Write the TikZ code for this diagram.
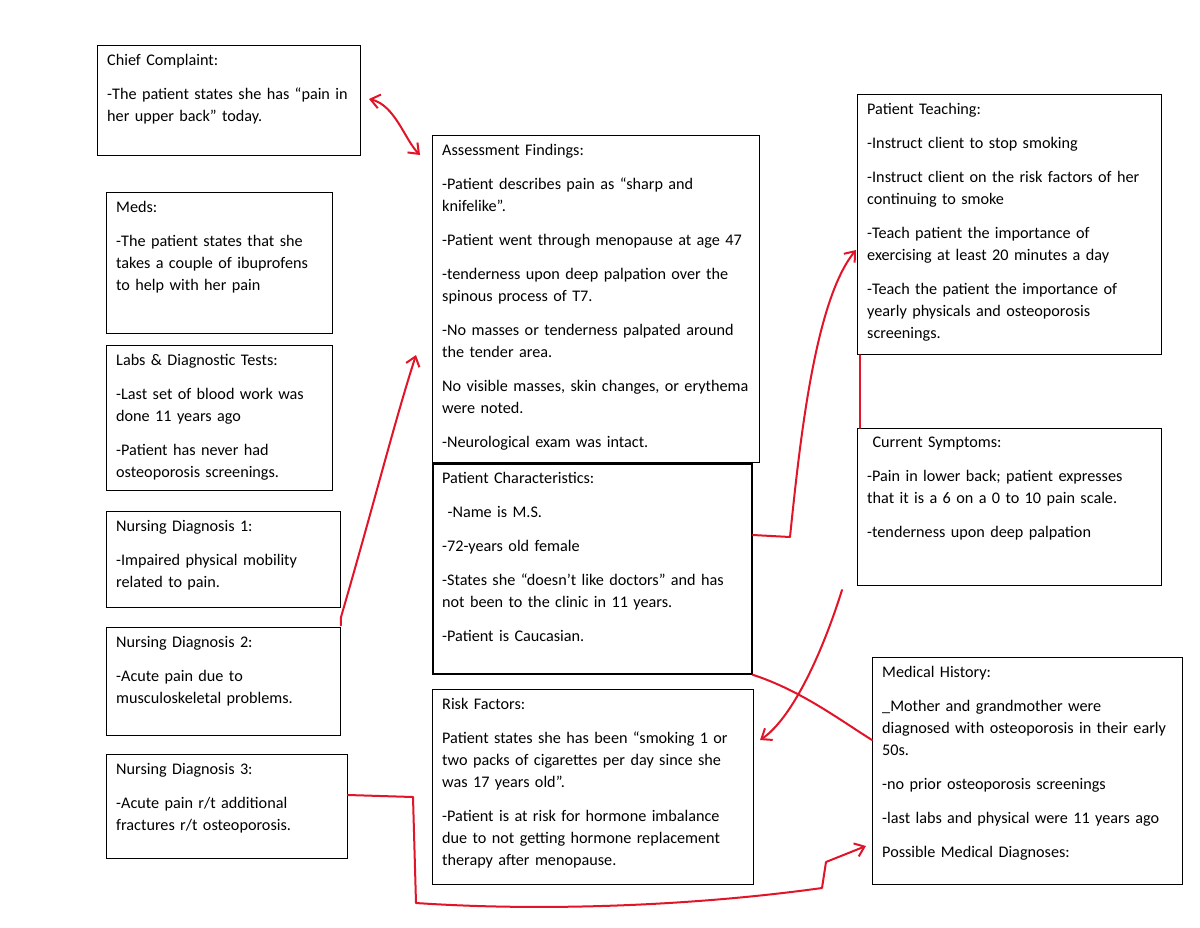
\documentclass[tikz,border=0pt]{standalone}
\usepackage{fontspec}
\setmainfont{Carlito}
\usetikzlibrary{calc,arrows.meta}
\begin{document}
\begin{tikzpicture}[x=1pt,y=-1pt,
  box/.style={draw=black,line width=0.9pt,anchor=north west,inner sep=0pt},
  txt/.style={anchor=north west,inner sep=0pt,align=left,font=\fontsize{16.2}{22}\selectfont,
     execute at begin node={\setlength{\parskip}{12pt}\hyphenpenalty=10000\exhyphenpenalty=10000}},
  red/.style={draw={rgb,255:red,225;green,20;blue,40},line width=2pt,line cap=round,line join=round},
  tip/.style={red,-{Straight Barb[length=9pt,width=14pt]}}]
\useasboundingbox[fill=white] (0,0) rectangle (1200,927);
\newcommand\bx[6]{\node[box,minimum width=#4-#2,minimum height=#5-#3] (#1) at (#2,#3) {};
  \node[txt,text width=#4-#2-12] (#1t) at (#2+10,#3+9) {#6};}
\bx{cc}{97}{45}{360}{155}{Chief Complaint:\par -The patient states she has “pain in\\ her upper back” today.}
\bx{meds}{106}{192}{332}{333}{Meds:\par -The patient states that she\\ takes a couple of ibuprofens\\ to help with her pain}
\bx{labs}{106}{345}{332}{490}{Labs \& Diagnostic Tests:\par -Last set of blood work was\\ done 11 years ago\par -Patient has never had\\ osteoporosis screenings.}
\bx{nda}{106}{511}{340}{607}{Nursing Diagnosis 1:\par -Impaired physical mobility\\ related to pain.}
\bx{ndb}{106}{627}{340}{735}{Nursing Diagnosis 2:\par -Acute pain due to\\ musculoskeletal problems.}
\bx{ndc}{106}{754}{347}{858}{Nursing Diagnosis 3:\par -Acute pain r/t additional\\ fractures r/t osteoporosis.}
\bx{af}{432}{135}{759}{462}{Assessment Findings:\par -Patient describes pain as “sharp and\\ knifelike”.\par -Patient went through menopause at age 47\par -tenderness upon deep palpation over the\\ spinous process of T7.\par -No masses or tenderness palpated around\\ the tender area.\par No visible masses, skin changes, or erythema\\ were noted.\par -Neurological exam was intact.}
\node[box,line width=1.8pt,minimum width=319,minimum height=210] (pc) at (432,463) {};
\node[txt,text width=306] (pct) at (442,472) {Patient Characteristics:\par \ -Name is M.S.\par -72-years old female\par -States she “doesn’t like doctors” and has\\ not been to the clinic in 11 years.\par -Patient is Caucasian.};
\bx{rf}{432}{689}{753}{884}{Risk Factors:\par Patient states she has been “smoking 1 or\\ two packs of cigarettes per day since she\\ was 17 years old”.\par -Patient is at risk for hormone imbalance\\ due to not getting hormone replacement\\ therapy after menopause.}
\bx{pt}{857}{94}{1161}{354}{Patient Teaching:\par -Instruct client to stop smoking\par -Instruct client on the risk factors of her\\ continuing to smoke\par -Teach patient the importance of\\ exercising at least 20 minutes a day\par -Teach the patient the importance of\\ yearly physicals and osteoporosis\\ screenings.}
\bx{cs}{857}{428}{1161}{585}{\ Current Symptoms:\par -Pain in lower back; patient expresses\\ that it is a 6 on a 0 to 10 pain scale.\par -tenderness upon deep palpation}
\bx{mh}{872}{657}{1182}{884}{Medical History:\par \_Mother and grandmother were\\ diagnosed with osteoporosis in their early\\ 50s.\par -no prior osteoporosis screenings\par -last labs and physical were 11 years ago\par Possible Medical Diagnoses:}
% connectors
\coordinate (a1) at (369,99);
\coordinate (a2) at (420,155);
\draw[red,{Straight Barb[length=9pt,width=14pt]}-{Straight Barb[length=9pt,width=14pt]}] (a1) .. controls (395,105) and (405,140) .. (a2);
\coordinate (b1) at ($(nda.south east)!0.5!(ndb.north east)$);
\draw[tip] ($(b1)+(0,8)$) -- (b1) .. controls (375,500) and (395,420) .. (416,355);
\coordinate (c1) at (pc.east |- 0,535);
\draw[tip] (c1) -- (790,537) .. controls (800,440) and (815,300) .. (856,250);
\draw[red] (860,355) -- (860,428);
\draw[tip] (842,590) .. controls (820,660) and (790,720) .. (760,740);
\draw[red] (pc.south east) .. controls (800,690) and (840,720) .. (872,740);
\coordinate (d1) at (ndc.east |- 0,795);
\draw[tip] (d1) -- (413,797) -- (416,903) .. controls (550,912) and (700,905) .. (822,888) -- (826,862) -- (866,846);
\end{tikzpicture}
\end{document}
